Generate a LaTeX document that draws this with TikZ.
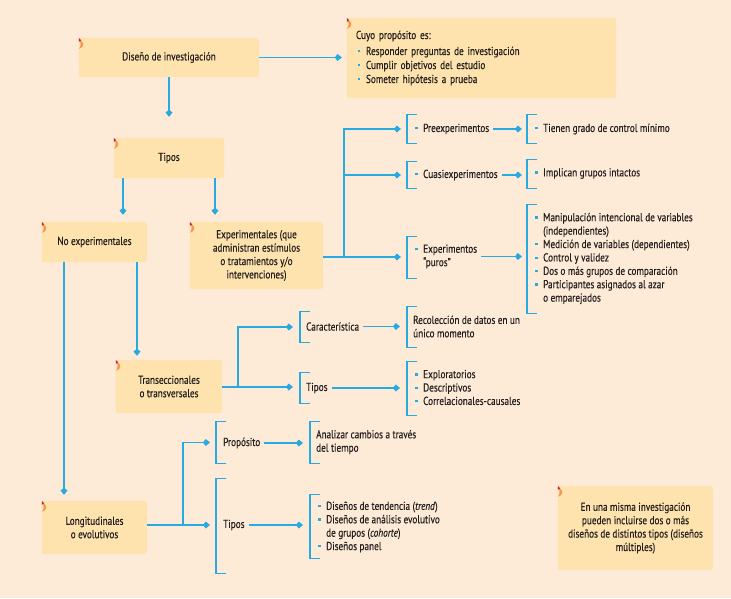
\documentclass[tikz,border=0pt]{standalone}
\usepackage{fontspec}
\setmainfont{PT Sans}[FakeStretch=0.8,FakeBold=0.3]
\usetikzlibrary{arrows.meta,backgrounds}
\definecolor{bgc}{RGB}{253,235,215}
\definecolor{boxc}{RGB}{254,227,174}
\definecolor{lb}{RGB}{39,170,225}
\definecolor{txc}{RGB}{35,30,30}
\definecolor{decoa}{RGB}{245,150,75}
\definecolor{decob}{RGB}{200,25,75}
\newcommand\bul{\makebox[8pt][l]{\raisebox{2.6pt}{\textcolor{lb}{\rule{2.3pt}{2.3pt}}}}}
\newcommand\nb{\hspace*{8pt}}
\newcommand\drawbrk[1]{\draw[brk] (#1.north east) -- (#1.north west) -- (#1.south west) -- (#1.south east);}
\newcommand\deco[1]{%
  \fill[decoa] ([shift={(0,2)}]#1.north west) .. controls ([shift={(6,3)}]#1.north west) and ([shift={(6,10)}]#1.north west) .. ([shift={(0,11)}]#1.north west) .. controls ([shift={(2.5,8.5)}]#1.north west) and ([shift={(2.5,4.5)}]#1.north west) .. cycle;
  \fill[decob] (#1.north west) -- ([shift={(2.5,2.5)}]#1.north west) -- ([shift={(0,4)}]#1.north west) -- cycle;}
\newcommand\boxbg[1]{%
  \fill[boxc, rounded corners=3pt] (#1.north west) rectangle (#1.south east);
  \fill[boxc] (#1.north west) rectangle ([shift={(6,0)}]#1.south west);
  \deco{#1}}
\begin{document}
\begin{tikzpicture}[x=1pt,y=-1pt,
  font=\fontsize{11.5}{13.4}\selectfont, text=txc,
  conn/.style={draw=lb, line width=1.3pt},
  arr/.style={conn, -{Kite[length=7pt,width=7pt,inset=2.7pt]}},
  brk/.style={draw=lb, line width=1.2pt},
  bnode/.style={anchor=west, inner sep=0pt, minimum width=10pt},
  txt/.style={anchor=west, inner sep=0pt, align=left},
  box/.style={inner sep=0pt, align=center}]
\useasboundingbox (0,0) rectangle (731,598);
% boxes
\node[box, minimum width=180pt, minimum height=39pt] (dis) at (169,57.5) {Diseño de investigación};
\node[box, minimum width=269pt, minimum height=80pt, text width=251pt, align=left, font=\fontsize{11.5}{14}\selectfont] (prop) at (481.5,58) {Cuyo propósito es:\\[2pt]
\hspace*{2pt}\bul Responder preguntas de investigación\\
\hspace*{2pt}\bul Cumplir objetivos del estudio\\
\hspace*{2pt}\bul Someter hipótesis a prueba};
\node[box, minimum width=110pt, minimum height=40pt] (tipos) at (169,158) {Tipos};
\node[box, minimum width=105pt, minimum height=40pt] (noexp) at (94.5,242) {No experimentales};
\node[box, minimum width=133pt, minimum height=67pt] (exp) at (256.5,255.5) {Experimentales (que\\administran estímulos\\o tratamientos y/o\\intervenciones)};
\node[box, minimum width=106pt, minimum height=53pt] (trans) at (169,386.5) {Transeccionales\\o transversales};
\node[box, minimum width=105pt, minimum height=53pt] (long) at (94.5,527.5) {Longitudinales\\o evolutivos};
\node[box, minimum width=155pt, minimum height=84pt] (note) at (635.5,528) {En una misma investigación\\pueden incluirse dos o más\\diseños de distintos tipos (diseños\\múltiples)};
% experimental tree
\coordinate (j1) at (344,257);
\node[bnode, minimum height=28pt] (preB) at (407,129) {};
\node[txt] (pre) at (415,129) {\bul Preexperimentos};
\node[bnode, minimum height=28pt] (tenB) at (527,129) {};
\node[txt] (ten) at (535,129) {\bul Tienen grado de control mínimo};
\node[bnode, minimum height=26pt] (cuaB) at (407,175) {};
\node[txt] (cua) at (415,175) {\bul Cuasiexperimentos};
\node[bnode, minimum height=28pt] (impB) at (527,174) {};
\node[txt] (imp) at (535,173.5) {\bul Implican grupos intactos};
\node[bnode, minimum height=41pt] (purB) at (407,257.5) {};
\node[txt] (pur) at (415,256.5) {\bul Experimentos\\\nb“puros”};
\node[bnode, minimum height=108pt] (carB) at (527,259) {};
\node[txt] (car) at (535,258.5) {\bul Manipulación intencional de variables\\\nb(independientes)\\\bul Medición de variables (dependientes)\\\bul Control y validez\\\bul Dos o más grupos de comparación\\\bul Participantes asignados al azar\\\nb o emparejados};
% transeccionales tree
\coordinate (j2) at (238,387);
\node[bnode, minimum height=30pt] (caraB) at (300,327) {};
\node[txt] (cara) at (306,326.5) {Característica};
\node[bnode, minimum height=40pt] (recB) at (407,327) {};
\node[txt] (rec) at (413,326.5) {Recolección de datos en un\\único momento};
\node[bnode, minimum height=30pt] (tp1B) at (300,388) {};
\node[txt] (tp1) at (306,388) {Tipos};
\node[bnode, minimum height=53pt] (explB) at (407,388.5) {};
\node[txt] (expl) at (415,387.5) {\bul Exploratorios\\\bul Descriptivos\\\bul Correlacionales-causales};
% longitudinal tree
\coordinate (j3) at (183,525);
\node[bnode, minimum height=41pt] (prpB) at (216,442.5) {};
\node[txt] (prp) at (223,443) {Propósito};
\node[bnode, minimum height=41pt] (anaB) at (310,442.5) {};
\node[txt] (ana) at (316,442) {Analizar cambios a través\\del tiempo};
\node[bnode, minimum height=94pt] (tp2B) at (216,526) {};
\node[txt] (tp2) at (223,525) {Tipos};
\node[bnode, minimum height=63pt] (dsB) at (310,526.5) {};
\node[txt] (ds) at (318,527) {\bul Diseños de tendencia (\textit{trend})\\\bul Diseños de análisis evolutivo\\\nb de grupos (\textit{cohorte})\\\bul Diseños panel};
% brackets
\foreach \b in {preB,tenB,cuaB,impB,purB,carB,caraB,recB,tp1B,explB,prpB,anaB,tp2B,dsB} {\drawbrk{\b}}
% connectors
\draw[arr, shorten >=5pt] (dis.east) -- (prop.west |- dis.east);
\draw[arr, shorten >=21pt] (dis.south) -- (tipos.north);
\draw[arr, shorten >=7pt] (tipos.south -| 123,0) -- (noexp.north -| 123,0);
\draw[arr, shorten >=7pt] (tipos.south -| 215,0) -- (exp.north -| 215,0);
\draw[arr, shorten >=4pt] (noexp.south -| 137,0) -- (trans.north -| 137,0);
\draw[arr, shorten >=6pt] (noexp.south -| 64,0) -- (long.north -| 64,0);
\draw[arr, shorten >=6pt] (exp.east |- j1) -- (purB.west |- j1);
\draw[arr, shorten >=6pt] (j1) |- (preB.west);
\draw[arr, shorten >=6pt] (j1) |- (cuaB.west);
\draw[arr, shorten <=4pt, shorten >=5pt] (pre.east) -- (tenB.west |- pre.east);
\draw[arr, shorten <=4pt, shorten >=5pt] (cua.east) -- (impB.west |- cua.east);
\draw[arr, shorten <=4pt, shorten >=5pt] (pur.east) -- (carB.west |- pur.east);
\draw[conn] (trans.east |- j2) -- (j2);
\draw[arr, shorten >=7pt] (j2) |- (caraB.west);
\draw[arr, shorten >=7pt] (j2) -- (tp1B.west |- j2);
\draw[arr, shorten <=4pt, shorten >=7pt] (cara.east) -- (recB.west |- cara.east);
\draw[arr, shorten <=4pt, shorten >=7pt] (tp1.east) -- (explB.west |- tp1.east);
\draw[conn] (long.east |- j3) -- (j3);
\draw[arr, shorten >=6pt] (j3) |- (prpB.west);
\draw[arr, shorten >=6pt] (j3) -- (tp2B.west |- j3);
\draw[arr, shorten <=4pt, shorten >=7pt] (prp.east) -- (anaB.west |- prp.east);
\draw[arr, shorten <=4pt, shorten >=7pt] (tp2.east) -- (dsB.west |- tp2.east);
% backgrounds
\begin{pgfonlayer}{background}
\fill[bgc] (0,0) rectangle (731,598);
\foreach \n in {dis,prop,tipos,noexp,exp,trans,long,note} {\boxbg{\n}}
\end{pgfonlayer}
\end{tikzpicture}
\end{document}
